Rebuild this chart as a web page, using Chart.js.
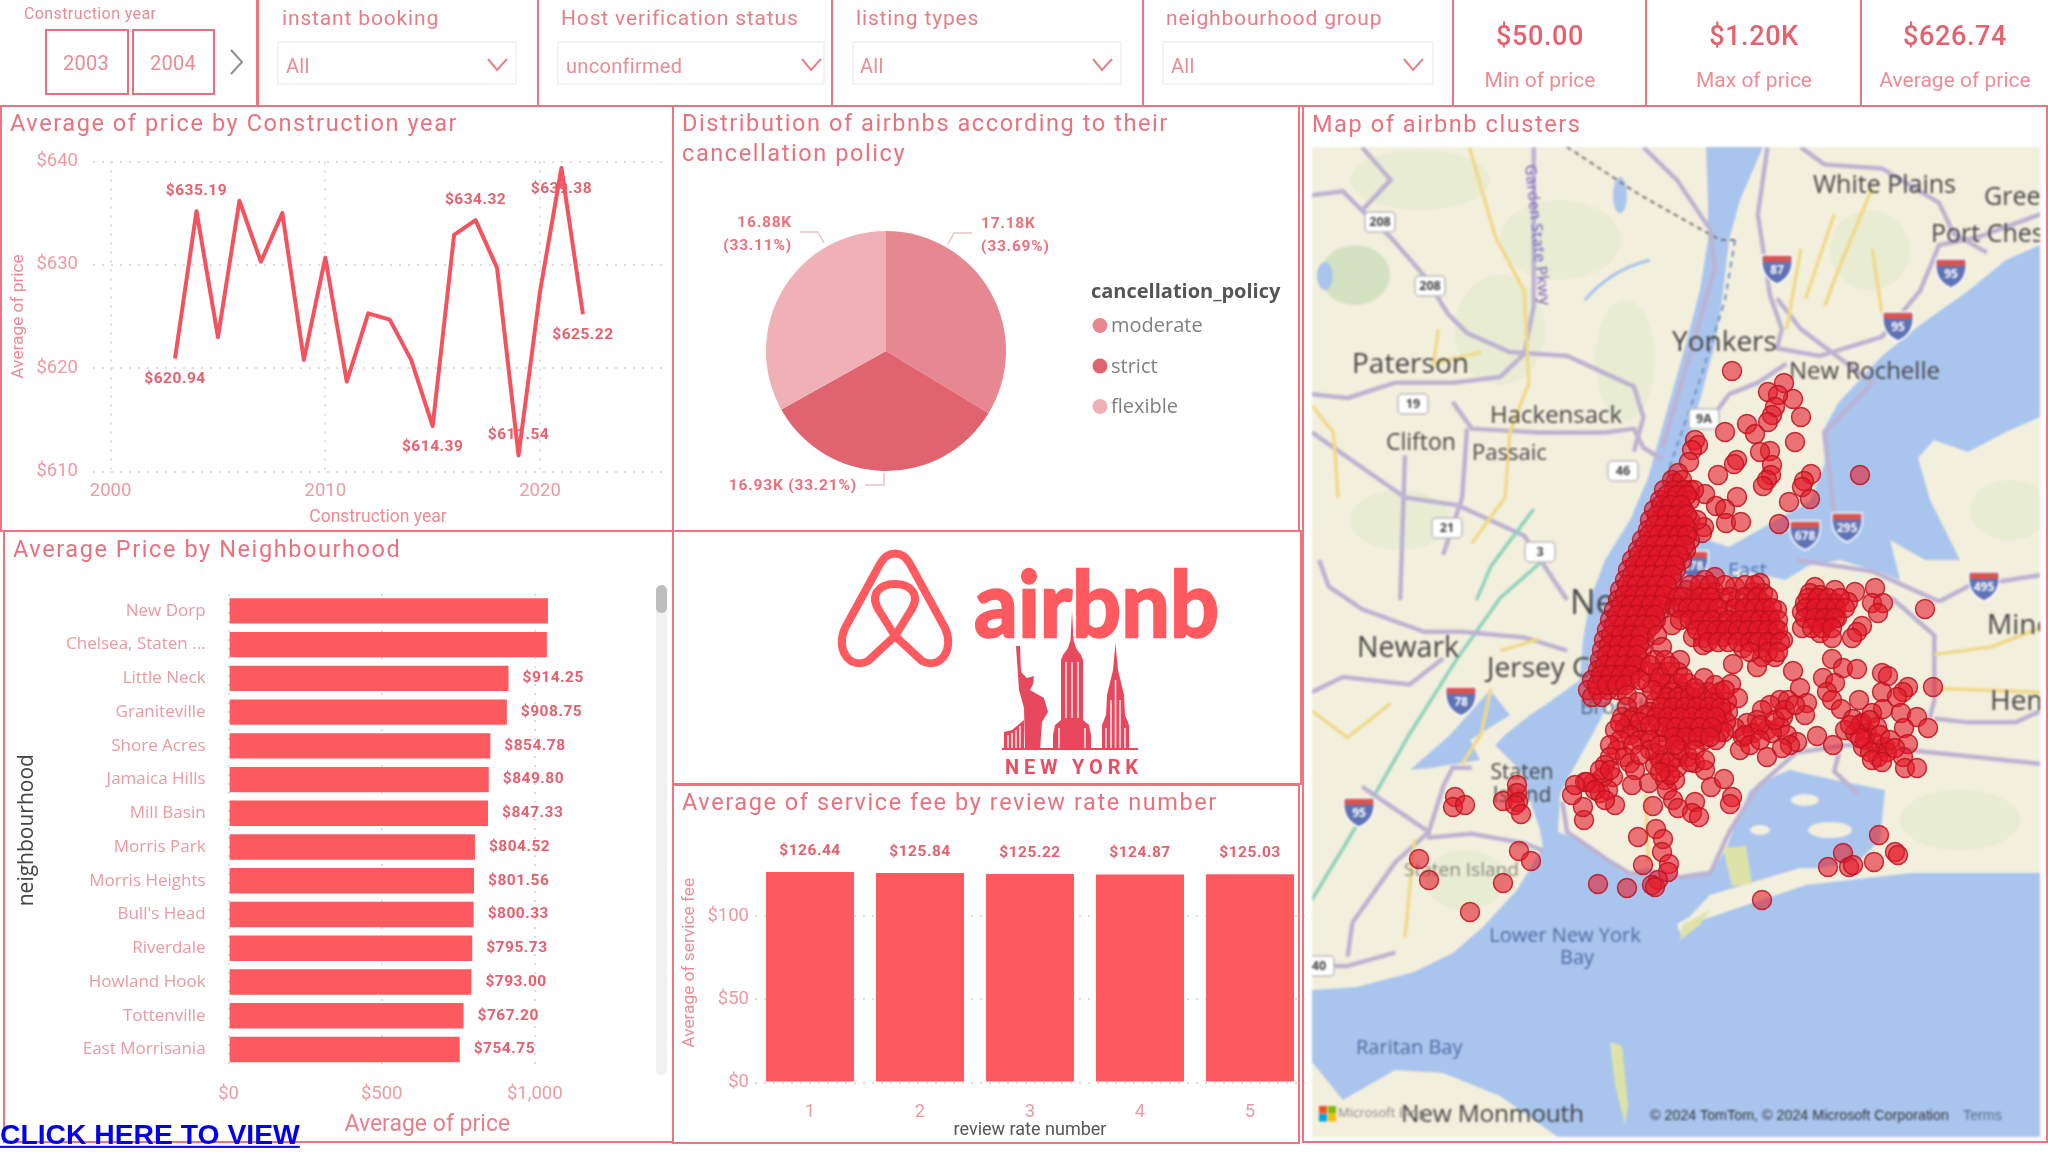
<!DOCTYPE html>
<html>
<head>
<meta charset="utf-8">
<script src="https://cdn.jsdelivr.net/npm/chart.js@4"></script>
<style>
  html, body { margin: 0; padding: 0; background: #fff; width: 2048px; height: 1152px; overflow: hidden; }
  body { position: relative; font-family: Roboto, sans-serif; }
  canvas, svg, .t, .panel, .box, .thumb, .track { position: absolute; display: block; }
  .panel { box-sizing: border-box; border: 2.5px solid #EE7480; pointer-events: none; z-index: 5; }
  .t { white-space: nowrap; line-height: 1; transform: translateY(-50%); z-index: 6; }
  .c { transform: translate(-50%, -50%); text-align: center; }
  .title { font-size: 23.5px; font-weight: 400; letter-spacing: 1.58px; color: #E8727E; }
  .slicer { font-size: 21px; font-weight: 400; letter-spacing: .85px; color: #E87C87; }
  .val { font-size: 20px; color: #E98C96; letter-spacing: .3px; }
  .big { font-size: 27px; font-weight: 500; color: #E6616F; letter-spacing: .6px; }
  .sub { font-size: 21px; color: #EC8C96; }
  .box { box-sizing: border-box; border: 2px solid #F3F3F3; z-index: 4; }
  .legend { font-family: "Open Sans", sans-serif; font-size: 20px; color: #808080; }
  a.t { color: #0000EE; font-family: "Liberation Sans", Arial, sans-serif; font-weight: bold; font-size: 28.3px; text-decoration: underline; }
  svg text { font-family: "Open Sans", sans-serif; }
</style>
</head>
<body>

<div class="panel" style="left:-3px;top:-3px;width:261px;height:110px"></div>
<div class="panel" style="left:257px;top:-3px;width:282px;height:110px"></div>
<div class="panel" style="left:537px;top:-3px;width:296px;height:110px"></div>
<div class="panel" style="left:831px;top:-3px;width:313px;height:110px"></div>
<div class="panel" style="left:1142px;top:-3px;width:312px;height:110px"></div>
<div class="panel" style="left:1452px;top:-3px;width:195px;height:110px"></div>
<div class="panel" style="left:1645px;top:-3px;width:217px;height:110px"></div>
<div class="panel" style="left:1860px;top:-3px;width:192px;height:110px"></div>
<div class="panel" style="left:0;top:105px;width:674px;height:427px"></div>
<div class="panel" style="left:672px;top:105px;width:628px;height:427px"></div>
<div class="panel" style="left:1302px;top:105px;width:746px;height:1038px"></div>
<div class="panel" style="left:3px;top:530px;width:671px;height:613px"></div>
<div class="panel" style="left:672px;top:530px;width:630px;height:255px"></div>
<div class="panel" style="left:672px;top:784px;width:628px;height:360px"></div>

<!-- slicers -->
<div class="t" style="left:24px;top:14px;font-size:16px;letter-spacing:.4px;color:#E88C96">Construction year</div>
<div class="box" style="left:45px;top:29px;width:84px;height:66px;border-color:#E8707C"></div>
<div class="box" style="left:132px;top:29px;width:83px;height:66px;border-color:#E8707C"></div>
<div class="t c val" style="left:86px;top:63px">2003</div>
<div class="t c val" style="left:173px;top:63px">2004</div>
<svg style="left:228px;top:48px;z-index:6" width="18" height="28"><path d="M3,2 L14,14 L3,26" fill="none" stroke="#8A8F90" stroke-width="2"/></svg>

<div class="t slicer" style="left:282px;top:18px">instant booking</div>
<div class="box" style="left:277px;top:41px;width:240px;height:44px"></div>
<div class="t val" style="left:286px;top:66px">All</div>
<svg style="left:486px;top:57px;z-index:6" width="24" height="16"><path d="M2,2 L11,13 L21,2" fill="none" stroke="#E6808A" stroke-width="2"/></svg>

<div class="t slicer" style="left:561px;top:18px">Host verification status</div>
<div class="box" style="left:557px;top:41px;width:268px;height:44px"></div>
<div class="t val" style="left:566px;top:66px">unconfirmed</div>
<svg style="left:800px;top:57px;z-index:6" width="24" height="16"><path d="M2,2 L11,13 L21,2" fill="none" stroke="#E6808A" stroke-width="2"/></svg>

<div class="t slicer" style="left:856px;top:18px">listing types</div>
<div class="box" style="left:852px;top:41px;width:270px;height:44px"></div>
<div class="t val" style="left:860px;top:66px">All</div>
<svg style="left:1091px;top:57px;z-index:6" width="24" height="16"><path d="M2,2 L11,13 L21,2" fill="none" stroke="#E6808A" stroke-width="2"/></svg>

<div class="t slicer" style="left:1166px;top:18px">neighbourhood group</div>
<div class="box" style="left:1162px;top:41px;width:272px;height:44px"></div>
<div class="t val" style="left:1171px;top:66px">All</div>
<svg style="left:1402px;top:57px;z-index:6" width="24" height="16"><path d="M2,2 L11,13 L21,2" fill="none" stroke="#E6808A" stroke-width="2"/></svg>

<!-- cards -->
<div class="t c big" style="left:1540px;top:36px">$50.00</div>
<div class="t c sub" style="left:1540px;top:80px">Min of price</div>
<div class="t c big" style="left:1754px;top:36px">$1.20K</div>
<div class="t c sub" style="left:1754px;top:80px">Max of price</div>
<div class="t c big" style="left:1955px;top:36px">$626.74</div>
<div class="t c sub" style="left:1955px;top:80px">Average of price</div>

<!-- panel titles -->
<div class="t title" style="left:10px;top:124px">Average of price by Construction year</div>
<div class="t title" style="left:682px;top:124px">Distribution of airbnbs according to their</div>
<div class="t title" style="left:682px;top:154px">cancellation policy</div>
<div class="t title" style="left:13px;top:550px">Average Price by Neighbourhood</div>
<div class="t title" style="left:682px;top:803px">Average of service fee by review rate number</div>
<div class="t title" style="left:1312px;top:125px">Map of airbnb clusters</div>

<!-- pie legend -->
<div class="t legend" style="left:1091px;top:291px;font-weight:700;color:#555;font-size:20px">cancellation_policy</div>
<svg style="left:1090px;top:315px;z-index:6" width="22" height="102">
  <circle cx="10" cy="10.5" r="7.5" fill="#E68792"/><circle cx="10" cy="51" r="7.5" fill="#E06470"/><circle cx="10" cy="91.5" r="7.5" fill="#EFB1B6"/>
</svg>
<div class="t legend" style="left:1111px;top:325px">moderate</div>
<div class="t legend" style="left:1111px;top:366px">strict</div>
<div class="t legend" style="left:1111px;top:406px">flexible</div>

<!-- scrollbar of neighbourhood list -->
<div class="track" style="left:656px;top:585px;width:11px;height:490px;background:#F1F1F1;border-radius:6px"></div>
<div class="thumb" style="left:656px;top:585px;width:11px;height:28px;background:#BDBDBD;border-radius:6px"></div>

<!-- logo -->
<svg style="left:0;top:0;z-index:3" width="2048" height="1152">
  <path d="M895,636 L868,661 C850,670 835,650 845,628 L880,564 C888,550 902,550 910,564 L945,628 C955,650 940,670 922,661 L895,636 L880,612 C868,594 880,584 895,584 C910,584 922,594 910,612 Z" fill="none" stroke="#FF5A5F" stroke-width="8" stroke-linejoin="round"/>
  <text x="974" y="637" font-size="92" font-weight="700" fill="#FF5A5F" stroke="#FF5A5F" stroke-width="2.5" textLength="245" lengthAdjust="spacingAndGlyphs" style="font-family:Lato,sans-serif">airbnb</text>
  <g fill="#E8485E">
    <rect x="1002" y="748" width="136" height="2"/>
    <polygon points="1072,611 1073.5,640 1076,648 1081,655 1083,660 1083,720 1089,725 1091,735 1091,750 1053,750 1053,735 1055,725 1061,720 1061,660 1063,655 1068,648 1070.5,640"/>
    <polygon points="1115.5,643 1118,670 1124,695 1125,715 1129,725 1129,750 1102,750 1102,725 1106,715 1107,695 1113,670"/>
    <polygon points="1016,646 1020,646 1021,672 1027,678 1034,676 1033,684 1030,690 1044,698 1048,712 1042,722 1040,750 1025,750 1024,708 1019,690"/>
    <polygon points="1004,750 1004,732 1012,730 1024,720 1024,750"/>
  </g>
  <g stroke="#FBE3E6" stroke-width="1.6" fill="none">
    <path d="M1066,662 V718 M1072,662 V718 M1078,662 V718 M1059,728 V748 M1085,728 V748"/>
    <path d="M1111,700 V748 M1115.5,680 V748 M1120,700 V748 M1106,728 V748 M1125,728 V748"/>
    <path d="M1008,735 V748 M1012,733 V748 M1016,730 V748 M1020,726 V748"/>
  </g>
  <text x="1005" y="774" font-size="20" font-weight="700" fill="#E84F62" textLength="133" style="font-family:Roboto,sans-serif">NEW YORK</text>
</svg>

<!-- map background -->
<svg id="map" style="left:1312px;top:147px;z-index:1;filter:blur(1px)" width="728" height="990" viewBox="1312 147 728 990">
  <rect x="1312" y="147" width="728" height="990" fill="#F3EFDD"/>
  <g fill="#E8ECD2">
    <ellipse cx="1355" cy="275" rx="35" ry="30" fill="#D5E2C2"/><ellipse cx="1560" cy="240" rx="60" ry="40"/><ellipse cx="1500" cy="330" rx="45" ry="55"/>
    <ellipse cx="1625" cy="360" rx="30" ry="60"/><ellipse cx="1870" cy="250" rx="40" ry="40"/><ellipse cx="2010" cy="510" rx="40" ry="30"/>
    <ellipse cx="1960" cy="820" rx="60" ry="30"/><ellipse cx="1465" cy="880" rx="40" ry="30"/>
    <ellipse cx="1420" cy="180" rx="70" ry="30"/><ellipse cx="1400" cy="520" rx="50" ry="30"/>
  </g>
  <g fill="#A9C5EE">
    <path d="M1706,147 L1708,200 1708,240 1700,290 1686,344 1670,400 1648,478 1630,520 1605,560 1590,600 1583,640 1580,680 1548,703 1530,715 1505,735 1495,745 1510,760 1520,770 1530,800 1540,830 1543,847 1517,890 1483,927 1453,953 1414,972 1357,987 1312,990 1312,1062 1343,1100 1395,1070 1443,1073 1500,1096 1558,1137 2040,1137 2040,873 1911,873 1806,885 1696,922 1682,938 1677,924 1720,900 1800,872 1860,860 1880,840 1885,790 1835,780 1790,770 1777,775 1750,790 1735,825 1727,847 1713,870 1680,875 1647,868 1623,873 1597,850 1580,840 1558,832 1560,794 1572,771 1591,737 1605,711 1612,690 1605,660 1620,620 1640,570 1655,510 1677,478 1700,400 1715,344 1722,300 1729,240 1740,200 1763,147 Z"/>
    <path d="M2040,245 L2006,260 1968,291 1920,325 1882,356 1839,402 1822,432 1825,463 1810,501 1729,547 1696,536 1680,565 1655,610 1635,660 1620,690 1612,690 1640,660 1670,610 1705,585 1740,570 1785,580 1810,565 1840,560 1880,572 1900,580 1890,540 1925,560 1960,560 1945,530 1930,500 1918,458 1934,440 1968,452 2006,432 2040,417 Z"/>
    <ellipse cx="1620" cy="195" rx="7" ry="18"/><ellipse cx="1325" cy="276" rx="8" ry="14"/>
    <path d="M1585,300 Q1610,270 1650,260" fill="none" stroke="#A9C5EE" stroke-width="3"/>
    <path d="M1430,768 L1480,760 1470,740 1510,715 1490,690 1450,735 1410,770 Z"/>
  </g>
  <g fill="#F3EFDD">
    <path d="M1677,930 L1800,882 1905,873 1900,868 1800,868 1710,895 Z"/>
    <ellipse cx="1830" cy="830" rx="22" ry="8"/><ellipse cx="1805" cy="800" rx="14" ry="6"/><ellipse cx="1760" cy="830" rx="10" ry="5"/>
  </g>
  <g fill="#DDE3A8">
    <path d="M1723,848 L1746,846 1752,884 1732,886 Z"/>
    <path d="M1680,940 L1682,925 1710,910 1700,925 Z"/>
    <path d="M1610,1042 L1622,1046 1628,1105 1625,1125 1615,1085 Z"/>
  </g>
  <path d="M1567,147 L1640,195 1720,240 1735,240" fill="none" stroke="#777" stroke-width="2" stroke-dasharray="5 4"/>
  <path d="M1735,240 L1725,300 1700,380 1665,480 1640,540" fill="none" stroke="#6F8FC0" stroke-width="2" stroke-dasharray="6 5"/>
  <g transform="translate(1300,0) scale(.477,.3827)" fill="none" stroke-linejoin="round">
    <g stroke="#BDB3D3" stroke-width="4.5">
      <path vector-effect="non-scaling-stroke" d="M25,510 L90,500 130,550 190,620 260,720 310,820 350,870 440,920 560,930 700,1010 720,1090 700,1180"/>
      <path vector-effect="non-scaling-stroke" d="M25,1030 L100,1040 200,1000 320,1000 420,985 470,925 490,800 490,385"/>
      <path vector-effect="non-scaling-stroke" d="M130,385 L190,470 130,550"/>
      <path vector-effect="non-scaling-stroke" d="M320,1050 L360,1120 500,1130 640,1130 700,1120 720,1170 760,1200"/>
      <path vector-effect="non-scaling-stroke" d="M720,385 L790,470 860,600 870,700 840,830 800,1000 760,1170"/>
      <path vector-effect="non-scaling-stroke" d="M980,385 L960,560 985,770 1010,860 1000,910 1090,930 1220,880 1300,760 1340,640 1420,620 1552,560"/>
      <path vector-effect="non-scaling-stroke" d="M1050,385 L1100,430 1220,440 1340,530 1370,610 1440,660"/>
      <path vector-effect="non-scaling-stroke" d="M1000,780 L1050,860 1200,1000 1100,1130 1120,1340"/>
      <path vector-effect="non-scaling-stroke" d="M870,1080 L900,1030 960,1000 1020,950"/>
      <path vector-effect="non-scaling-stroke" d="M25,1130 L220,1300 330,1320 470,1400 560,1568"/>
      <path vector-effect="non-scaling-stroke" d="M220,1190 L210,1568"/>
      <path vector-effect="non-scaling-stroke" d="M350,1120 L340,1300 300,1450"/>
    </g>
    <g stroke="#F0D98A" stroke-width="3.5">
      <path vector-effect="non-scaling-stroke" d="M355,385 L410,620 470,760 480,1000 440,1130 430,1300 360,1420"/>
      <path vector-effect="non-scaling-stroke" d="M290,860 L280,950 380,920"/>
      <path vector-effect="non-scaling-stroke" d="M1050,650 L1020,860"/>
      <path vector-effect="non-scaling-stroke" d="M1120,560 L1060,780"/>
      <path vector-effect="non-scaling-stroke" d="M1200,490 L1130,700 1100,800"/>
      <path vector-effect="non-scaling-stroke" d="M25,1060 L70,1130 80,1300"/>
      <path vector-effect="non-scaling-stroke" d="M1200,650 L1220,820"/>
    </g>
    <path vector-effect="non-scaling-stroke" stroke="#8FD3BB" stroke-width="3.5" d="M490,1330 L400,1480 370,1568"/>
  </g>
  <g transform="translate(1300,560) scale(.477,.3776)" fill="none" stroke-linejoin="round">
    <path vector-effect="non-scaling-stroke" stroke="#8FD3BB" stroke-width="3.5" d="M25,900 L130,680 230,460 330,260 420,100 510,0"/>
    <g stroke="#BDB3D3" stroke-width="4.5">
      <path vector-effect="non-scaling-stroke" d="M40,0 L60,70 130,130 260,190 340,190 470,205 560,240"/>
      <path vector-effect="non-scaling-stroke" d="M25,350 L90,310 230,330 300,260"/>
      <path vector-effect="non-scaling-stroke" d="M130,600 L270,720 270,735 360,725 470,750 510,770"/>
      <path vector-effect="non-scaling-stroke" d="M270,720 L300,600 320,550 360,550"/>
      <path vector-effect="non-scaling-stroke" d="M270,720 L200,800 110,960 100,1050"/>
      <path vector-effect="non-scaling-stroke" d="M25,1075 L100,1075 200,1040"/>
      <path vector-effect="non-scaling-stroke" d="M550,640 L560,720 640,790 690,830 800,840 860,830 900,720 960,600 1040,510 1150,490 1250,500 1400,520 1552,540"/>
      <path vector-effect="non-scaling-stroke" d="M1330,420 L1400,430 1500,430 1552,400"/>
      <path vector-effect="non-scaling-stroke" d="M1130,510 L1120,560 1170,620"/>
      <path vector-effect="non-scaling-stroke" d="M1240,100 L1330,200 1330,370 1320,420"/>
      <path vector-effect="non-scaling-stroke" d="M1340,110 L1400,70 1552,40"/>
      <path vector-effect="non-scaling-stroke" d="M1040,0 L1200,30 1340,110"/>
    </g>
    <g stroke="#F0D98A" stroke-width="3.5">
      <path vector-effect="non-scaling-stroke" d="M1330,250 L1450,230 1552,180"/>
      <path vector-effect="non-scaling-stroke" d="M1340,340 L1552,350"/>
      <path vector-effect="non-scaling-stroke" d="M725,620 L730,800"/>
      <path vector-effect="non-scaling-stroke" d="M240,740 L220,1000"/>
      <path vector-effect="non-scaling-stroke" d="M25,400 L100,470 190,380"/>
      <path vector-effect="non-scaling-stroke" d="M400,340 L380,460 340,540"/>
      <path vector-effect="non-scaling-stroke" d="M420,240 L500,210"/>
    </g>
  </g>
  <g id="shields"></g>
  <g fill="#454545" dominant-baseline="middle" transform="translate(0,2)">
    <text x="1813" y="184" font-size="25">White Plains</text>
    <text x="1984" y="196" font-size="25">Green</text>
    <text x="1931" y="233" font-size="25">Port Chest</text>
    <text x="1672" y="342" font-size="28">Yonkers</text>
    <text x="1789" y="371" font-size="24">New Rochelle</text>
    <text x="1352" y="364" font-size="28">Paterson</text>
    <text x="1490" y="415" font-size="24">Hackensack</text>
    <text x="1386" y="442" font-size="23">Clifton</text>
    <text x="1472" y="452" font-size="22">Passaic</text>
    <text x="1570" y="603" font-size="34">New York</text>
    <text x="1987" y="625" font-size="28">Mine</text>
    <text x="1990" y="701" font-size="28">Hem</text>
    <text x="1357" y="647" font-size="28.5">Newark</text>
    <text x="1487" y="668" font-size="28">Jersey City</text>
    <text x="1401" y="1113" font-size="24.5" textLength="183">New Monmouth</text>
    <text x="1522" y="771" font-size="21" text-anchor="middle">Staten</text>
    <text x="1522" y="794" font-size="21" text-anchor="middle">Island</text>
  </g>
  <text x="1728" y="572" font-size="20" fill="#4A6FB5" dominant-baseline="middle">East</text>
  <text x="1580" y="708" font-size="21" fill="#566B85" dominant-baseline="middle">Brooklyn</text>
  <text x="1404" y="871" font-size="19" fill="#8A8A80" dominant-baseline="middle">Staten Island</text>
  <g fill="#4D6AA3" dominant-baseline="middle" font-size="20" transform="translate(0,1)">
    <text x="1565" y="936" text-anchor="middle">Lower New York</text>
    <text x="1577" y="958" text-anchor="middle">Bay</text>
    <text x="1356" y="1048">Raritan Bay</text>
  </g>
  <text transform="translate(1525,165) rotate(84)" font-size="15.5" font-weight="600" fill="#8A7CC8">Garden State Pkwy</text>
  <g><rect x="1319" y="1106" width="8" height="7.5" fill="#F25022"/><rect x="1328" y="1106" width="8" height="7.5" fill="#7FBA00"/><rect x="1319" y="1114" width="8" height="7.5" fill="#00A4EF"/><rect x="1328" y="1114" width="8" height="7.5" fill="#FFB900"/></g>
  <text x="1338" y="1114" font-size="13" fill="#8A8A8A" dominant-baseline="middle">Microsoft Bing</text>
  <text x="1650" y="1116" font-size="14.3" dominant-baseline="middle" fill="#333" style="font-family:'Liberation Sans',sans-serif">© 2024 TomTom, © 2024 Microsoft Corporation</text>
  <text x="1963" y="1116" font-size="14.3" dominant-baseline="middle" fill="#5A6A8A" style="font-family:'Liberation Sans',sans-serif">Terms</text>
</svg>

<canvas id="clusterChart" width="728" height="990" style="left:1312px;top:147px;z-index:2"></canvas>
<canvas id="lineChart" width="670" height="422" style="left:2px;top:107px;z-index:2"></canvas>
<canvas id="pieChart" width="622" height="422" style="left:675px;top:107px;z-index:2"></canvas>
<canvas id="neighbourhoodChart" width="640" height="608" style="left:5px;top:533px;z-index:2"></canvas>
<canvas id="feeChart" width="640" height="355" style="left:675px;top:786px;z-index:2"></canvas>

<a class="t" href="#" style="left:0;top:1134px;z-index:8">CLICK HERE TO VIEW</a>

<script>
// values
const years = [2003, 2004, 2005, 2006, 2007, 2008, 2009, 2010, 2011, 2012, 2013, 2014, 2015, 2016, 2017, 2018, 2019, 2020, 2021, 2022];
const avgPriceByYear = [620.94, 635.19, 623.0, 636.2, 630.3, 635.0, 620.8, 630.7, 618.7, 625.3, 624.7, 620.8, 614.39, 632.9, 634.32, 629.7, 611.54, 627.4, 639.38, 625.22];
const labelledYearsAbove = [2004, 2017, 2019];
const labelledYearsBelow = [2003, 2015, 2021, 2022];
const yearTicks = [2000, 2010, 2020];

const policies = ['moderate', 'strict', 'flexible'];
const policyCounts = [17.18, 16.93, 16.88];
const policyShares = [33.69, 33.21, 33.11];

const neighbourhoods = ['New Dorp', 'Chelsea, Staten ...', 'Little Neck', 'Graniteville', 'Shore Acres', 'Jamaica Hills', 'Mill Basin', 'Morris Park', 'Morris Heights', "Bull's Head", 'Riverdale', 'Howland Hook', 'Tottenville', 'East Morrisania'];
const avgPriceByNeighbourhood = [1043, 1039.5, 914.25, 908.75, 854.78, 849.80, 847.33, 804.52, 801.56, 800.33, 795.73, 793.00, 767.20, 754.75];
const barsWithoutLabel = ['New Dorp', 'Chelsea, Staten ...'];

const reviewRates = ['1', '2', '3', '4', '5'];
const avgServiceFee = [126.44, 125.84, 125.22, 124.87, 125.03];

// cluster positions in map units
const bronxPoints = [[1732,371],[1784,383],[1768,392],[1793,399],[1778,395],[1775,407],[1772,415],[1768,422],[1801,417],[1725,432],[1747,424],[1755,434],[1795,442],[1695,440],[1698,445],[1692,450],[1689,462],[1678,473],[1770,451],[1760,452],[1737,460],[1734,464],[1718,475],[1772,465],[1771,475],[1767,480],[1763,486],[1811,474],[1804,481],[1802,487],[1860,475],[1810,499],[1789,502],[1737,497],[1705,494],[1716,506],[1725,509],[1690,490],[1675,483],[1726,523],[1741,522],[1779,524],[1704,527],[1702,533]];
const manhattanPoints = [[1672,480],[1682,480],[1664,490],[1674,490],[1684,490],[1694,490],[1660,500],[1670,500],[1680,500],[1690,500],[1654,510],[1664,510],[1674,510],[1684,510],[1650,520],[1660,520],[1670,520],[1680,520],[1690,520],[1697,520],[1648,530],[1658,530],[1668,530],[1678,530],[1688,530],[1642,540],[1652,540],[1662,540],[1672,540],[1682,540],[1690,540],[1638,550],[1648,550],[1658,550],[1668,550],[1678,550],[1686,550],[1632,560],[1642,560],[1652,560],[1662,560],[1672,560],[1682,560],[1628,570],[1638,570],[1648,570],[1658,570],[1668,570],[1676,570],[1625,580],[1635,580],[1645,580],[1655,580],[1665,580],[1672,580],[1620,590],[1630,590],[1640,590],[1650,590],[1660,590],[1668,590],[1618,600],[1628,600],[1638,600],[1648,600],[1658,600],[1664,600],[1614,610],[1624,610],[1634,610],[1644,610],[1654,610],[1660,610],[1610,620],[1620,620],[1630,620],[1640,620],[1650,620],[1656,620],[1607,630],[1617,630],[1627,630],[1637,630],[1647,630],[1604,640],[1614,640],[1624,640],[1634,640],[1644,640],[1602,650],[1612,650],[1622,650],[1632,650],[1642,650],[1600,660],[1610,660],[1620,660],[1630,660],[1640,660],[1598,670],[1608,670],[1618,670],[1628,670],[1636,670],[1592,680],[1602,680],[1612,680],[1622,680],[1630,680],[1588,690],[1598,690],[1608,690],[1618,690],[1592,697],[1602,697]];
const midtownPoints = [[1667,495],[1677,495],[1687,495],[1661,505],[1671,505],[1681,505],[1657,515],[1667,515],[1677,515],[1687,515],[1655,525],[1665,525],[1675,525],[1685,525],[1649,535],[1659,535],[1669,535],[1679,535],[1687,535],[1645,545],[1655,545],[1665,545],[1675,545],[1685,545],[1639,555],[1649,555],[1659,555],[1669,555],[1679,555],[1635,565],[1645,565],[1655,565],[1665,565],[1675,565],[1632,575],[1642,575],[1652,575],[1662,575],[1672,575],[1627,585],[1637,585],[1647,585],[1657,585],[1667,585],[1625,595],[1635,595],[1645,595],[1655,595],[1665,595],[1621,605],[1631,605],[1641,605],[1651,605],[1661,605],[1617,615],[1627,615],[1637,615],[1647,615],[1655,615],[1614,625],[1624,625],[1634,625],[1644,625],[1652,625],[1611,635],[1621,635],[1631,635],[1641,635],[1609,645],[1619,645],[1629,645],[1639,645],[1607,655],[1617,655],[1627,655],[1637,655],[1605,665],[1615,665],[1625,665],[1635,665],[1601,675],[1611,675],[1621,675],[1631,675],[1597,685],[1607,685],[1617,685],[1625,685]];
const queensWestPoints = [[1715,577],[1705,580],[1735,587],[1760,583],[1753,592],[1763,593],[1678,597],[1687,590],[1695,595],[1705,593],[1715,592],[1723,598],[1738,600],[1752,602],[1762,603],[1777,610],[1675,607],[1683,607],[1693,605],[1703,603],[1713,603],[1730,610],[1740,612],[1750,612],[1760,613],[1770,617],[1690,615],[1700,615],[1710,617],[1720,617],[1672,625],[1695,625],[1705,625],[1715,627],[1725,623],[1735,623],[1745,623],[1755,623],[1765,625],[1775,628],[1693,637],[1703,638],[1713,635],[1723,637],[1733,635],[1743,637],[1753,635],[1763,637],[1773,637],[1783,640],[1703,645],[1743,648],[1762,648],[1762,657],[1775,657],[1757,667],[1733,664],[1793,671]];
const astoriaPoints = [[1690,585],[1700,585],[1710,585],[1725,585],[1745,585],[1755,585],[1683,597],[1700,597],[1710,597],[1730,597],[1745,597],[1757,597],[1768,597],[1678,608],[1688,608],[1698,608],[1708,608],[1718,608],[1735,608],[1745,608],[1755,608],[1765,608],[1772,608],[1680,620],[1690,620],[1700,620],[1712,620],[1728,620],[1740,620],[1750,620],[1760,620],[1770,620],[1778,620],[1697,630],[1707,630],[1717,630],[1727,630],[1738,630],[1748,630],[1758,630],[1768,630],[1778,630],[1708,642],[1718,642],[1728,642],[1738,642],[1750,642],[1758,642],[1768,642],[1780,642],[1750,652],[1768,652],[1778,652]];
const queensEastPoints = [[1815,587],[1810,593],[1820,595],[1835,590],[1855,592],[1875,588],[1805,603],[1815,603],[1825,603],[1835,603],[1848,602],[1872,603],[1883,603],[1802,612],[1812,613],[1822,613],[1832,615],[1878,613],[1925,609],[1802,628],[1817,623],[1827,623],[1837,618],[1820,633],[1832,638],[1862,626],[1857,632],[1852,638],[1808,598],[1818,598],[1828,598],[1840,598],[1806,608],[1816,608],[1826,608],[1836,608],[1845,608],[1805,618],[1815,618],[1825,618],[1835,618],[1812,628],[1822,628],[1832,628]];
const queensSouthPoints = [[1832,659],[1843,668],[1857,669],[1882,673],[1888,676],[1933,687],[1823,678],[1835,683],[1827,692],[1832,700],[1908,687],[1903,692],[1882,692],[1897,697],[1859,700],[1841,709],[1883,709],[1872,713],[1901,713],[1917,717],[1928,728],[1904,728],[1853,719],[1862,723],[1845,730],[1855,733],[1867,733],[1877,727],[1817,736],[1833,745],[1863,747],[1875,743],[1885,747],[1878,757],[1887,752],[1908,744],[1903,757],[1905,768],[1917,768],[1800,688],[1807,703],[1780,700],[1770,705],[1762,710],[1788,700],[1783,717],[1805,715],[1757,720],[1747,723],[1735,728],[1743,737],[1753,733],[1767,730],[1780,727],[1787,735],[1797,742],[1790,745],[1772,733],[1740,750],[1767,757],[1782,748],[1745,735],[1760,725],[1775,720],[1785,710],[1795,705],[1750,745],[1760,740],[1860,725],[1870,720],[1865,740],[1880,735],[1890,740],[1870,752],[1860,738],[1850,725],[1872,760],[1882,762],[1895,748]];
const brooklynPoints = [[1657,635],[1662,647],[1680,660],[1655,660],[1665,660],[1648,672],[1658,672],[1668,672],[1678,672],[1648,683],[1658,683],[1668,683],[1678,683],[1688,683],[1704,678],[1731,684],[1738,698],[1627,695],[1660,692],[1672,692],[1684,692],[1696,692],[1708,692],[1720,692],[1655,702],[1667,702],[1679,702],[1691,702],[1703,702],[1715,702],[1727,702],[1650,712],[1662,712],[1674,712],[1686,712],[1698,712],[1710,712],[1722,712],[1728,712],[1658,722],[1670,722],[1682,722],[1694,722],[1706,722],[1718,722],[1726,722],[1660,732],[1672,732],[1684,732],[1696,732],[1708,732],[1720,732],[1724,732],[1668,740],[1680,740],[1692,740],[1704,740],[1716,740],[1638,702],[1627,707],[1622,717],[1633,717],[1645,715],[1615,730],[1625,728],[1637,730],[1647,732],[1666,697],[1678,697],[1690,697],[1702,697],[1714,697],[1661,707],[1673,707],[1685,707],[1697,707],[1709,707],[1721,707],[1656,717],[1668,717],[1680,717],[1692,717],[1704,717],[1716,717],[1664,727],[1676,727],[1688,727],[1700,727],[1712,727],[1674,737],[1686,737],[1698,737],[1710,737],[1650,665],[1660,677],[1670,666],[1683,677],[1652,690],[1640,680],[1695,688],[1715,685],[1725,690],[1630,720],[1640,722],[1650,725],[1620,723],[1630,735],[1640,740],[1650,740],[1620,740],[1610,745]];
const southBrooklynPoints = [[1617,750],[1633,745],[1610,757],[1605,765],[1625,757],[1630,763],[1635,770],[1632,785],[1649,783],[1613,777],[1603,777],[1593,783],[1585,782],[1600,793],[1608,790],[1615,805],[1653,806],[1584,820],[1583,807],[1572,795],[1587,782],[1655,753],[1665,755],[1678,757],[1688,757],[1655,765],[1665,768],[1677,768],[1695,763],[1705,770],[1665,780],[1675,780],[1667,790],[1673,800],[1678,808],[1695,802],[1692,813],[1699,817],[1711,787],[1724,779],[1732,797],[1730,804],[1638,837],[1656,829],[1663,839],[1662,852],[1669,864],[1643,865],[1668,872],[1658,880],[1652,885],[1655,887],[1627,888],[1598,884],[1660,760],[1670,762],[1680,750],[1690,762],[1670,775],[1660,772],[1600,770],[1610,770],[1595,790],[1605,800],[1575,785],[1650,750],[1640,755],[1660,745],[1675,745],[1695,750],[1705,760]];
const rockawayPoints = [[1762,900],[1843,853],[1828,867],[1849,867],[1853,865],[1874,862],[1879,835],[1895,852],[1898,855]];
const statenIslandPoints = [[1455,797],[1453,807],[1465,805],[1503,801],[1517,785],[1517,793],[1518,802],[1515,805],[1521,814],[1519,851],[1531,861],[1419,859],[1429,880],[1503,883],[1470,912]];

const CORAL = '#FD5A60';
const TICK_PINK = '#EE9AA2';
const LABEL_RED = '#E6616F';
const GRID_DOTS = { dash: [2, 7], display: false };

Chart.defaults.font.family = 'Roboto, sans-serif';
Chart.defaults.animation = false;
Chart.defaults.responsive = false;

// keeps the plot area where it sits in the dashboard, whatever the tick widths are
function fixedWidth(width) { return (scale) => { scale.width = width; }; }
function fixedHeight(height) { return (scale) => { scale.height = height; }; }

function moneyLabel(ctx, text, x, y, align) {
  ctx.save();
  ctx.font = 'bold 15.5px Roboto, sans-serif';
  ctx.letterSpacing = '0.5px';
  ctx.fillStyle = LABEL_RED;
  ctx.textAlign = align;
  ctx.textBaseline = 'middle';
  ctx.fillText(text, x, y);
  ctx.restore();
}

new Chart(document.getElementById('lineChart'), {
  type: 'line',
  data: {
    datasets: [{
      data: years.map((y, i) => ({ x: y, y: avgPriceByYear[i] })),
      borderColor: '#F4525F',
      borderWidth: 4,
      borderJoinStyle: 'round',
      pointRadius: 0,
      tension: 0,
    }],
  },
  options: {
    layout: { autoPadding: false, padding: { top: 54.5, right: 9 } },
    plugins: { legend: { display: false }, tooltip: { enabled: false } },
    scales: {
      x: {
        type: 'linear', min: 1999.18, max: 2025.73,
        afterBuildTicks: (scale) => { scale.ticks = yearTicks.map((value) => ({ value })); },
        afterFit: fixedHeight(57.5),
        grid: { color: '#DDD', lineWidth: 2, drawTicks: false },
        border: GRID_DOTS,
        ticks: { color: TICK_PINK, padding: 9, font: { size: 18.5 }, callback: (v) => String(v) },
        title: { display: true, text: 'Construction year', color: '#E98C96', font: { size: 17.5 }, padding: { top: 0, bottom: 1 } },
      },
      y: {
        min: 610, max: 640,
        afterFit: fixedWidth(91),
        grid: { color: '#DDD', lineWidth: 2, drawTicks: false },
        border: GRID_DOTS,
        ticks: { color: TICK_PINK, stepSize: 10, padding: 15, includeBounds: false, font: { size: 18.5 }, callback: (v) => '$' + v },
        title: { display: true, text: 'Average of price', color: '#E98C96', font: { size: 17.3 }, padding: { top: 6, bottom: 0 } },
      },
    },
  },
  plugins: [{
    id: 'yearLabels',
    beforeDatasetsDraw(chart) {
      const { x: xs, y: ys } = chart.scales;
      labelledYearsAbove.forEach((yr) => {
        const v = avgPriceByYear[years.indexOf(yr)];
        moneyLabel(chart.ctx, '$' + v.toFixed(2), xs.getPixelForValue(yr), ys.getPixelForValue(v) - 20, 'center');
      });
      labelledYearsBelow.forEach((yr) => {
        const v = avgPriceByYear[years.indexOf(yr)];
        moneyLabel(chart.ctx, '$' + v.toFixed(2), xs.getPixelForValue(yr), ys.getPixelForValue(v) + 21, 'center');
      });
    },
  }],
});

// leader lines of the pie run from the rim out to the text, offsets from the pie centre
const pieLeaders = [
  [[62, -107], [68, -118], [86, -118]],
  [[-2, 122], [-2, 134], [-21, 134]],
  [[-62, -108], [-68, -119], [-86, -119]],
];

new Chart(document.getElementById('pieChart'), {
  type: 'pie',
  data: {
    labels: policies,
    datasets: [{
      data: policyCounts,
      backgroundColor: ['#E68792', '#E06470', '#EFB1B6'],
      borderWidth: 0,
      radius: 120,
    }],
  },
  options: {
    layout: { autoPadding: false, padding: { top: 66, right: 200 } },
    plugins: { legend: { display: false }, tooltip: { enabled: false } },
  },
  plugins: [{
    id: 'policyLabels',
    afterDraw(chart) {
      const { ctx } = chart;
      const { x: cx, y: cy } = chart.getDatasetMeta(0).data[0];
      ctx.save();
      ctx.strokeStyle = '#EFC0C4';
      ctx.lineWidth = 1.5;
      pieLeaders.forEach((line) => {
        ctx.beginPath();
        line.forEach(([dx, dy], i) => (i ? ctx.lineTo(cx + dx, cy + dy) : ctx.moveTo(cx + dx, cy + dy)));
        ctx.stroke();
      });
      ctx.font = 'bold 15.5px Roboto, sans-serif';
      ctx.letterSpacing = '0.8px';
      ctx.fillStyle = '#E8727E';
      ctx.textBaseline = 'middle';
      const count = (i) => policyCounts[i].toFixed(2) + 'K';
      const share = (i) => '(' + policyShares[i].toFixed(2) + '%)';
      ctx.textAlign = 'left';
      ctx.fillText(count(0), cx + 95, cy - 127);
      ctx.fillText(share(0), cx + 95, cy - 104);
      ctx.textAlign = 'right';
      ctx.fillText(count(2), cx - 94, cy - 128);
      ctx.fillText(share(2), cx - 94, cy - 105);
      ctx.fillText(count(1) + ' ' + share(1), cx - 29, cy + 135);
      ctx.restore();
    },
  }],
});

new Chart(document.getElementById('neighbourhoodChart'), {
  type: 'bar',
  data: {
    labels: neighbourhoods,
    datasets: [{
      data: avgPriceByNeighbourhood,
      backgroundColor: CORAL,
      categoryPercentage: 1,
      barPercentage: 0.753,
    }],
  },
  options: {
    indexAxis: 'y',
    layout: { autoPadding: false, padding: { top: 61, right: 19 } },
    plugins: { legend: { display: false }, tooltip: { enabled: false } },
    scales: {
      x: {
        min: 0, max: 1298,
        afterFit: fixedHeight(74.6),
        grid: { color: '#DDD', lineWidth: 2, drawTicks: false },
        border: GRID_DOTS,
        afterBuildTicks: (scale) => { scale.ticks = [0, 500, 1000].map((value) => ({ value })); },
        ticks: { color: TICK_PINK, padding: 17, font: { size: 18.5 }, callback: (v) => '$' + v.toLocaleString('en-US') },
        title: { display: true, text: 'Average of price', color: '#E8808A', font: { size: 23 }, padding: { top: 0, bottom: 2 } },
      },
      y: {
        afterFit: fixedWidth(223.6),
        grid: { display: false },
        border: { display: false },
        ticks: { color: '#E99AA2', padding: 15, autoSkip: false, font: { family: '"Open Sans", sans-serif', size: 17 } },
        title: { display: true, text: 'neighbourhood', color: '#444', font: { family: '"Open Sans", sans-serif', size: 21 }, padding: { top: 9, bottom: 0 } },
      },
    },
  },
  plugins: [{
    id: 'priceLabels',
    afterDatasetsDraw(chart) {
      chart.getDatasetMeta(0).data.forEach((bar, i) => {
        if (barsWithoutLabel.includes(neighbourhoods[i])) return;
        moneyLabel(chart.ctx, '$' + avgPriceByNeighbourhood[i].toFixed(2), bar.x + 14, bar.y, 'left');
      });
    },
  }],
});

new Chart(document.getElementById('feeChart'), {
  type: 'bar',
  data: {
    labels: reviewRates,
    datasets: [{
      data: avgServiceFee,
      backgroundColor: CORAL,
      categoryPercentage: 1,
      barPercentage: 0.8,
    }],
  },
  options: {
    layout: { autoPadding: false, padding: { top: 57, right: 10 } },
    plugins: { legend: { display: false }, tooltip: { enabled: false } },
    scales: {
      x: {
        afterFit: fixedHeight(58.4),
        grid: { display: false },
        border: { display: false },
        ticks: { color: TICK_PINK, padding: 11, font: { size: 18.5 } },
        title: { display: true, text: 'review rate number', color: '#555', font: { size: 18 }, padding: { top: 0, bottom: 0 } },
      },
      y: {
        min: 0, max: 143.8,
        afterFit: fixedWidth(80),
        grid: { color: '#DDD', lineWidth: 2, drawTicks: false },
        border: GRID_DOTS,
        ticks: { color: TICK_PINK, stepSize: 50, padding: 6, includeBounds: false, font: { size: 18.5 }, callback: (v) => '$' + v },
        title: { display: true, text: 'Average of service fee', color: '#E98C96', font: { size: 17.3 }, padding: { top: 4, bottom: 0 } },
      },
    },
  },
  plugins: [{
    id: 'feeLabels',
    afterDatasetsDraw(chart) {
      chart.getDatasetMeta(0).data.forEach((bar, i) => {
        moneyLabel(chart.ctx, '$' + avgServiceFee[i].toFixed(2), bar.x, bar.y - 21, 'center');
      });
    },
  }],
});

const clusterPoints = [bronxPoints, manhattanPoints, midtownPoints, queensWestPoints, astoriaPoints, queensEastPoints, queensSouthPoints, brooklynPoints, southBrooklynPoints, rockawayPoints, statenIslandPoints].flat();

new Chart(document.getElementById('clusterChart'), {
  type: 'scatter',
  data: {
    datasets: [{
      data: clusterPoints.map(([x, y]) => ({ x, y })),
      backgroundColor: 'rgba(228,24,40,0.58)',
      borderColor: 'rgba(190,18,32,0.85)',
      borderWidth: 1.5,
      pointRadius: 9.5,
    }],
  },
  options: {
    layout: { autoPadding: false },
    plugins: { legend: { display: false }, tooltip: { enabled: false } },
    scales: {
      x: { display: false, min: 1312, max: 2040 },
      y: { display: false, min: 147, max: 1137, reverse: true },
    },
  },
});

// road shields on the map
const stateShields = [['208', 1380, 222], ['208', 1430, 286], ['19', 1413, 404], ['21', 1447, 528], ['3', 1540, 552], ['9A', 1704, 419], ['46', 1623, 471], ['40', 1319, 966]];
const interstateShields = [['87', 1777, 268], ['95', 1951, 272], ['95', 1898, 325], ['295', 1847, 526], ['678', 1805, 534], ['278', 1693, 564], ['495', 1984, 585], ['78', 1461, 700], ['95', 1359, 811]];
let shieldSvg = '';
stateShields.forEach(([txt, x, y]) => {
  shieldSvg += `<rect x="${x - 15}" y="${y - 10}" width="30" height="20" rx="4" fill="#fff" stroke="#BBB" stroke-width="1.5"/>`
    + `<text x="${x}" y="${y + 1}" font-size="12.5" font-weight="700" fill="#444" text-anchor="middle" dominant-baseline="middle">${txt}</text>`;
});
interstateShields.forEach(([txt, x, y]) => {
  shieldSvg += `<path d="M${x - 15},${y - 13} H${x + 15} C${x + 17},${y + 4} ${x + 10},${y + 12} ${x},${y + 16} C${x - 10},${y + 12} ${x - 17},${y + 4} ${x - 15},${y - 13} Z" fill="#5E72B5" stroke="#fff" stroke-width="1.5"/>`
    + `<rect x="${x - 14}" y="${y - 12}" width="28" height="6" fill="#D9534F"/>`
    + `<text x="${x}" y="${y + 3}" font-size="12" font-weight="700" fill="#fff" text-anchor="middle" dominant-baseline="middle">${txt}</text>`;
});
document.getElementById('shields').innerHTML = shieldSvg;
</script>
</body>
</html>
